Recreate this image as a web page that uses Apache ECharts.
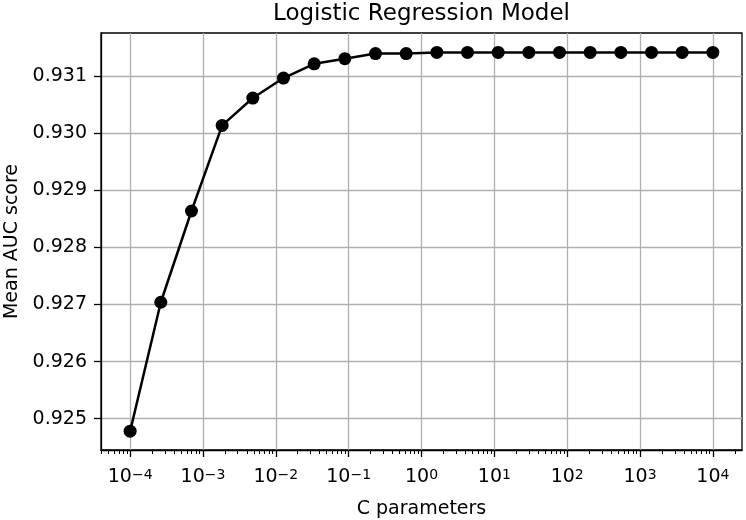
<!DOCTYPE html>
<html>
<head>
<meta charset="utf-8">
<script src="https://cdn.jsdelivr.net/npm/echarts@6/dist/echarts.min.js"></script>
<style>
html,body{margin:0;padding:0;background:#fff;}
#chart{width:746px;height:520px;}
</style>
</head>
<body>
<div id="chart"></div>
<script>
// C parameters (x, log scale) and mean AUC scores
const cParams = [1e-4, 2.637e-4, 6.952e-4, 1.833e-3, 4.833e-3, 1.274e-2, 3.360e-2, 8.859e-2,
  0.2336, 0.6158, 1.624, 4.281, 11.29, 29.76, 78.48, 206.9, 545.6, 1438, 3793, 1e4];
const aucScores = [0.92478, 0.92704, 0.92864, 0.93014, 0.93062, 0.93097, 0.93122, 0.93131,
  0.93140, 0.93140, 0.93142, 0.93142, 0.93142, 0.93142, 0.93142, 0.93142, 0.93142, 0.93142, 0.93142, 0.93142];
const xMajorTicks = [1e-4, 1e-3, 1e-2, 1e-1, 1e0, 1e1, 1e2, 1e3, 1e4];
const xMinorTicks = [4e-5,5e-5,6e-5,7e-5,8e-5,9e-5,
  2e-4,3e-4,4e-4,5e-4,6e-4,7e-4,8e-4,9e-4,
  2e-3,3e-3,4e-3,5e-3,6e-3,7e-3,8e-3,9e-3,
  2e-2,3e-2,4e-2,5e-2,6e-2,7e-2,8e-2,9e-2,
  0.2,0.3,0.4,0.5,0.6,0.7,0.8,0.9,
  2,3,4,5,6,7,8,9,
  20,30,40,50,60,70,80,90,
  200,300,400,500,600,700,800,900,
  2000,3000,4000,5000,6000,7000,8000,9000,
  20000];
const yTicks = [0.925, 0.926, 0.927, 0.928, 0.929, 0.930, 0.931];
const xMin = Math.pow(10, -4.4), xMax = Math.pow(10, 4.4);
const yMin = 0.92445, yMax = 0.93176;

const FONT = 'DejaVu Sans';
const chart = echarts.init(document.getElementById('chart'));
chart.setOption({
  animation: false,
  backgroundColor: '#fff',
  textStyle: { fontFamily: FONT, color: '#000' },
  title: {
    text: 'Logistic Regression Model',
    left: 421.5, top: 3, textAlign: 'center', padding: 0,
    textStyle: { fontFamily: FONT, fontSize: 23, fontWeight: 'normal', color: '#000' }
  },
  grid: {
    left: 101, right: 4, top: 33, bottom: 70,
    containLabel: false, outerBoundsMode: 'none',
    show: true, borderColor: '#000', borderWidth: 1.3, backgroundColor: 'transparent'
  },
  xAxis: [{
    type: 'log', logBase: 10, min: xMin, max: xMax, position: 'bottom',
    name: 'C parameters', nameLocation: 'middle', nameGap: 50,
    nameTextStyle: { fontFamily: FONT, fontSize: 19, color: '#000' },
    axisLine: { show: true, lineStyle: { color: '#000', width: 1.3 } },
    axisTick: { show: true, customValues: xMajorTicks, length: 7, lineStyle: { color: '#000', width: 1.3 } },
    axisLabel: {
      customValues: xMajorTicks, margin: 18, color: '#000',
      formatter: function (v) {
        const e = Math.round(Math.log10(v));
        const s = e < 0 ? '\u2212' + (-e) : String(e);
        return '{b|10}{s|' + s + '}';
      },
      rich: {
        b: { fontFamily: FONT, fontSize: 19, lineHeight: 19, verticalAlign: 'bottom', padding: [4.5, 0, 0, 0], color: '#000' },
        s: { fontFamily: FONT, fontSize: 14, lineHeight: 14, verticalAlign: 'top', color: '#000' }
      }
    },
    splitLine: { show: true, lineStyle: { color: '#b0b0b0', width: 1.3 } },
    minorTick: { show: false }
  }, {
    type: 'log', logBase: 10, min: xMin, max: xMax, position: 'bottom', offset: 0,
    axisLine: { show: false },
    axisTick: { show: true, customValues: xMinorTicks, length: 4, lineStyle: { color: '#000', width: 1 } },
    axisLabel: { show: false },
    splitLine: { show: false }
  }],
  yAxis: {
    type: 'value', min: yMin, max: yMax,
    name: 'Mean AUC score', nameLocation: 'middle', nameGap: 77.5,
    nameTextStyle: { fontFamily: FONT, fontSize: 19, color: '#000' },
    axisLine: { show: true, lineStyle: { color: '#000', width: 1.3 } },
    axisTick: { show: true, customValues: yTicks, length: 7, lineStyle: { color: '#000', width: 1.3 } },
    axisLabel: {
      customValues: yTicks, margin: 14, fontFamily: FONT, fontSize: 19, color: '#000',
      formatter: function (v) { return v.toFixed(3); }
    },
    splitLine: { show: true, lineStyle: { color: '#b0b0b0', width: 1.3 } }
  },
  series: [{
    type: 'line',
    xAxisIndex: 0,
    data: cParams.map(function (c, i) { return [c, aucScores[i]]; }),
    symbol: 'circle', symbolSize: 13,
    itemStyle: { color: '#000' },
    lineStyle: { color: '#000', width: 2.5 },
    clip: false
  }]
});
</script>
</body>
</html>
